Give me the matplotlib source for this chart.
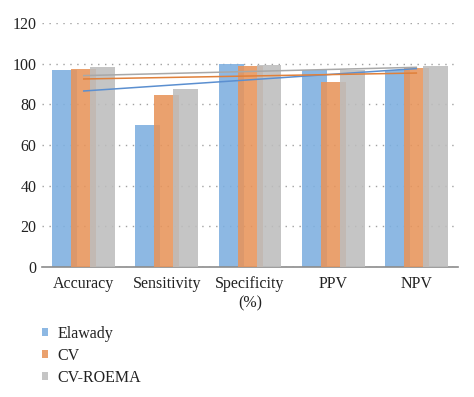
import numpy as np
import matplotlib.pyplot as plt

categories = ['Accuracy', 'Sensitivity', 'Specificity', 'PPV', 'NPV']
series_names = ['Elawady', 'CV', 'CV-ROEMA']
elawady = [96.7, 70.1, 99.7, 97.0, 97.0]
cv = [97.4, 84.7, 98.9, 90.8, 98.0]
cv_roema = [98.2, 87.7, 99.5, 96.9, 98.7]

colors = ['#7DAFE0', '#E8945A', '#BDBDBD']
line_colors = ['#5B8FD0', '#E0803A', '#A8A8A8']

plt.rcParams['font.family'] = ['Liberation Serif', 'DejaVu Serif']

fig = plt.figure(figsize=(4.74, 3.97), dpi=100)
ax = fig.add_axes([0.089, 0.327, 0.877, 0.615])

x = np.arange(len(categories))
width = 0.30
step = 0.228
for i, (vals, c) in enumerate(zip([elawady, cv, cv_roema], colors)):
    ax.bar(x + (i - 1) * step, vals, width, color=c, alpha=0.88,
           label=series_names[i], zorder=2 + i)

# linear trendlines
for vals, c in zip([elawady, cv, cv_roema], line_colors):
    k, b = np.polyfit(x, vals, 1)
    ax.plot(x, k * x + b, color=c, lw=1.1, zorder=6)

ax.set_xlim(-0.5, 4.5)
ax.set_ylim(0, 120)
ax.set_yticks(range(0, 121, 20))
ax.set_xticks(x)
ax.set_xticklabels(categories)
ax.set_xlabel('(%)', fontsize=11.5, labelpad=3, color='#222222')
ax.grid(axis='y', linestyle=(0, (1, 4)), color='#A0A0A0', lw=1, zorder=0)
for s in ['top', 'right', 'left']:
    ax.spines[s].set_visible(False)
ax.spines['bottom'].set_color('#8C8C8C')
ax.spines['bottom'].set_linewidth(1.2)
ax.tick_params(axis='both', length=0, labelsize=11.5, colors='#222222')
ax.tick_params(axis='y', pad=4)
ax.tick_params(axis='x', pad=6)

leg = fig.legend(loc='upper left', bbox_to_anchor=(0.058, 0.215), frameon=False,
                 fontsize=11.5, handlelength=0.4, handleheight=0.4,
                 handletextpad=0.6, labelspacing=0.38)
for t in leg.get_texts():
    t.set_color('#222222')

fig.savefig('out.png', dpi=100)
